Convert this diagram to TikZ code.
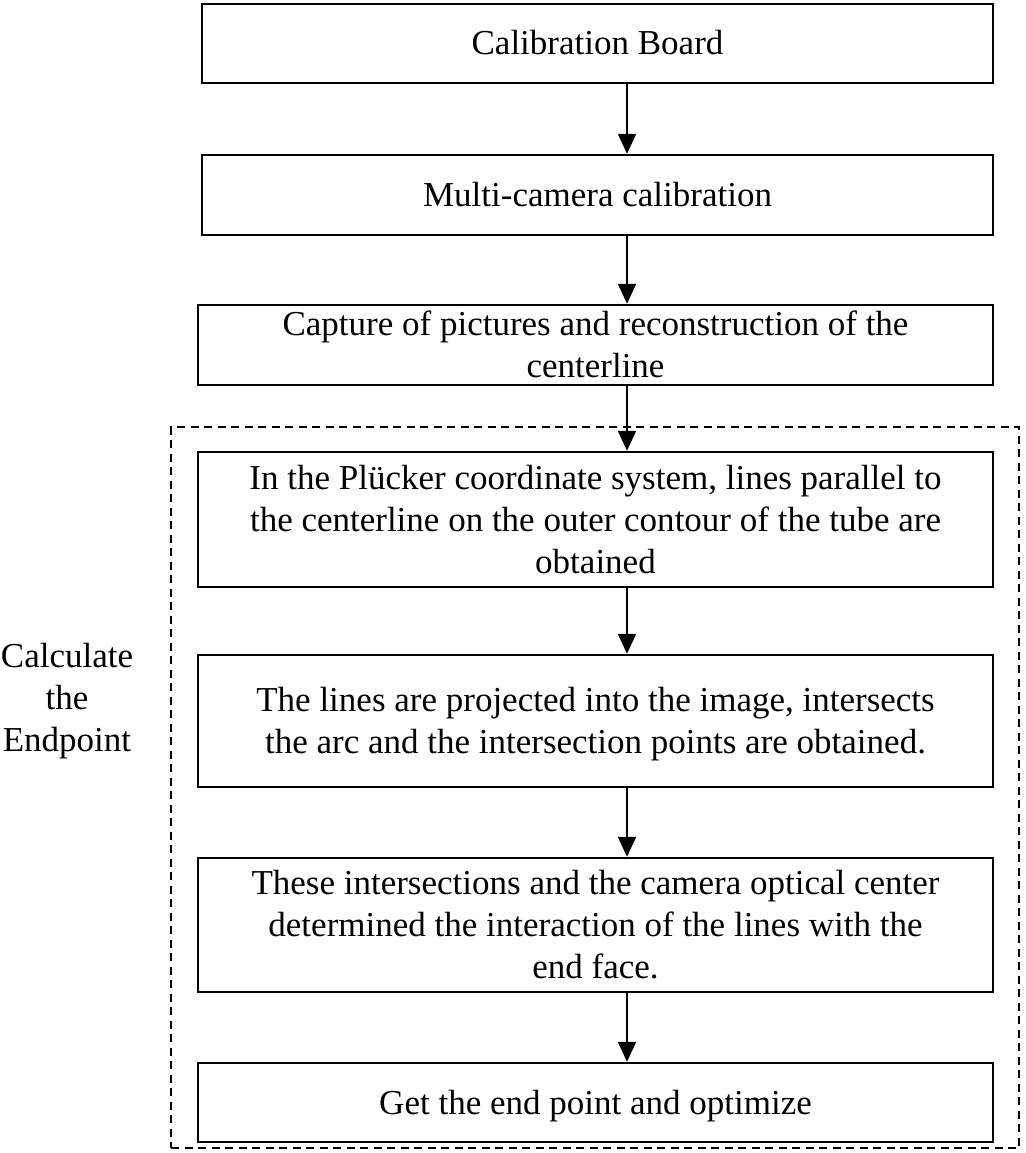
\documentclass[tikz,border=0pt]{standalone}
\usepackage{fontspec}
\setmainfont{Liberation Serif}
\usetikzlibrary{arrows.meta}
\newcommand\boxlines[1]{\begin{tabular}[t]{@{}c@{}}#1\end{tabular}}
\begin{document}
\begin{tikzpicture}[x=1pt,y=-1pt,
  node font=\fontsize{35}{42}\selectfont,
  stepbox/.style={draw, line width=2.4pt, inner sep=0pt, text height=23pt, text depth=0pt},
  wide/.style={minimum width=791pt},
  inner/.style={minimum width=795pt},
  arr/.style={line width=2pt, -{Triangle[length=20pt,width=18pt]}},
  group/.style={draw, dashed, dash pattern=on 8pt off 5.5pt, line width=2.2pt, inner sep=0pt}
]
\useasboundingbox (0,0) rectangle (1025,1153);

\node[group, minimum width=848pt, minimum height=721pt] (grp) at (595,787.5) {};

\node[stepbox, wide, minimum height=79pt] (b1) at (597.5,43.5) {\boxlines{Calibration Board}};
\node[stepbox, wide, minimum height=80pt] (b2) at (597.5,195) {\boxlines{Multi-camera calibration}};
\node[stepbox, inner, minimum height=80pt, text depth=42pt] (b3) at (595.5,345)
  {\boxlines{Capture of pictures and reconstruction of the\\ centerline}};
\node[stepbox, inner, minimum height=135pt, text depth=84pt] (b4) at (595.5,519.5)
  {\boxlines{In the Plücker coordinate system, lines parallel to\\ the centerline on the outer contour of the tube are\\ obtained}};
\node[stepbox, inner, minimum height=132pt, text depth=42pt] (b5) at (595.5,721)
  {\boxlines{The lines are projected into the image, intersects\\ the arc and the intersection points are obtained.}};
\node[stepbox, inner, minimum height=134pt, text depth=84pt] (b6) at (595.5,925)
  {\boxlines{These intersections and the camera optical center\\ determined the interaction of the lines with the\\ end face.}};
\node[stepbox, inner, minimum height=79pt] (b7) at (595.5,1102.5) {\boxlines{Get the end point and optimize}};

\node[inner sep=0pt, text height=23pt, text depth=84pt] (lbl) at (67,698) {\boxlines{Calculate\\ the\\ Endpoint}};

\coordinate (ax) at (627,0);
\draw[arr] (b1.south -| ax) -- (b2.north -| ax);
\draw[arr] (b2.south -| ax) -- (b3.north -| ax);
\draw[arr] (b3.south -| ax) -- (b4.north -| ax);
\draw[arr] (b4.south -| ax) -- (b5.north -| ax);
\draw[arr] (b5.south -| ax) -- (b6.north -| ax);
\draw[arr] (b6.south -| ax) -- (b7.north -| ax);
\end{tikzpicture}
\end{document}
